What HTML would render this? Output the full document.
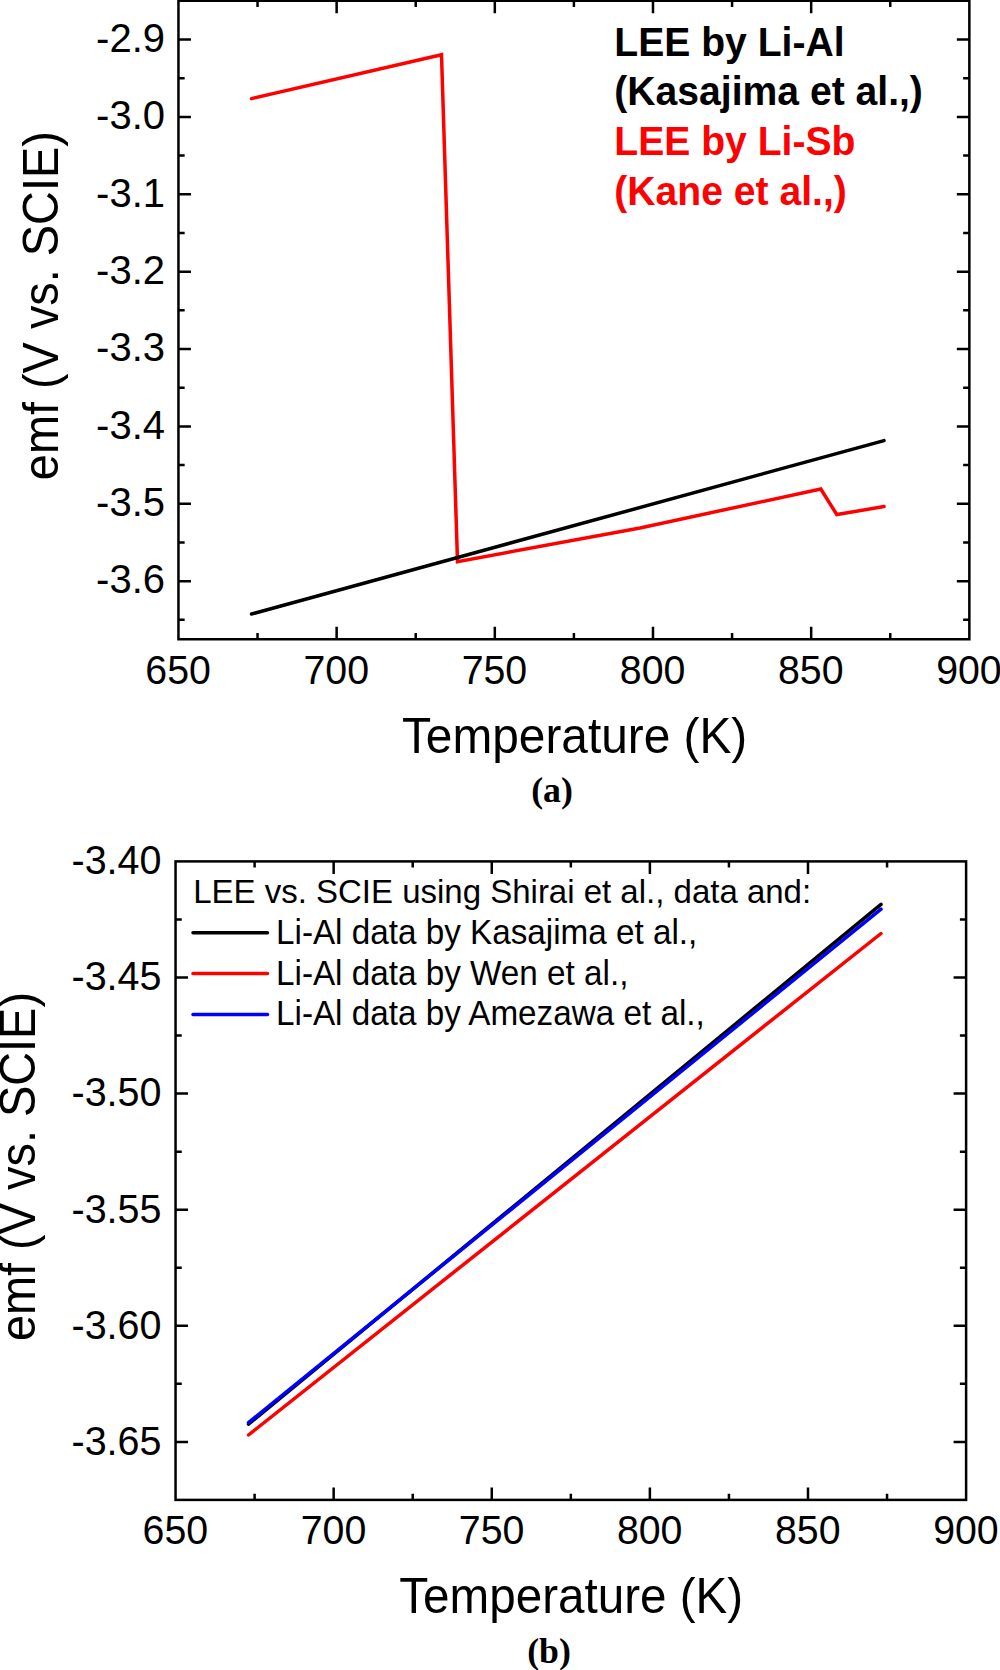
<!DOCTYPE html>
<html><head><meta charset="utf-8"><title>emf vs Temperature</title>
<style>
html,body{margin:0;padding:0;background:#fff}
svg{display:block}
text{font-family:"Liberation Sans",Arial,Helvetica,sans-serif;fill:#000}
.s{font-family:"Liberation Serif","Times New Roman",serif;font-weight:bold}
.b{font-weight:bold}
</style></head><body>
<svg width="1000" height="1670" viewBox="0 0 1000 1670">
<rect width="1000" height="1670" fill="#fff"/>
<path d="M257.54 639.25v-6.2M257.54 0.75v6.2M336.63 639.25v-12.5M336.63 0.75v12.5M415.72 639.25v-6.2M415.72 0.75v6.2M494.81 639.25v-12.5M494.81 0.75v12.5M573.9 639.25v-6.2M573.9 0.75v6.2M652.99 639.25v-12.5M652.99 0.75v12.5M732.08 639.25v-6.2M732.08 0.75v6.2M811.17 639.25v-12.5M811.17 0.75v12.5M890.26 639.25v-6.2M890.26 0.75v6.2M178.45 39.5h12.5M969.35 39.5h-12.5M178.45 116.88h12.5M969.35 116.88h-12.5M178.45 194.26h12.5M969.35 194.26h-12.5M178.45 271.64h12.5M969.35 271.64h-12.5M178.45 349.02h12.5M969.35 349.02h-12.5M178.45 426.4h12.5M969.35 426.4h-12.5M178.45 503.78h12.5M969.35 503.78h-12.5M178.45 581.16h12.5M969.35 581.16h-12.5M178.45 78.19h6.2M969.35 78.19h-6.2M178.45 155.57h6.2M969.35 155.57h-6.2M178.45 232.95h6.2M969.35 232.95h-6.2M178.45 310.33h6.2M969.35 310.33h-6.2M178.45 387.71h6.2M969.35 387.71h-6.2M178.45 465.09h6.2M969.35 465.09h-6.2M178.45 542.47h6.2M969.35 542.47h-6.2M178.45 619.85h6.2M969.35 619.85h-6.2" stroke="#000" stroke-width="2.5" fill="none"/>
<rect x="178.45" y="0.75" width="790.9" height="638.5" fill="none" stroke="#000" stroke-width="2.5"/>
<text transform="translate(165,51.8) scale(1,1.02)" font-size="40" text-anchor="end">-2.9</text>
<text transform="translate(165,129.18) scale(1,1.02)" font-size="40" text-anchor="end">-3.0</text>
<text transform="translate(165,206.56) scale(1,1.02)" font-size="40" text-anchor="end">-3.1</text>
<text transform="translate(165,283.94) scale(1,1.02)" font-size="40" text-anchor="end">-3.2</text>
<text transform="translate(165,361.32) scale(1,1.02)" font-size="40" text-anchor="end">-3.3</text>
<text transform="translate(165,438.7) scale(1,1.02)" font-size="40" text-anchor="end">-3.4</text>
<text transform="translate(165,516.08) scale(1,1.02)" font-size="40" text-anchor="end">-3.5</text>
<text transform="translate(165,593.46) scale(1,1.02)" font-size="40" text-anchor="end">-3.6</text>
<text transform="translate(178.05,684) scale(1,1.03)" font-size="39.3" text-anchor="middle">650</text>
<text transform="translate(336.23,684) scale(1,1.03)" font-size="39.3" text-anchor="middle">700</text>
<text transform="translate(494.41,684) scale(1,1.03)" font-size="39.3" text-anchor="middle">750</text>
<text transform="translate(652.59,684) scale(1,1.03)" font-size="39.3" text-anchor="middle">800</text>
<text transform="translate(810.77,684) scale(1,1.03)" font-size="39.3" text-anchor="middle">850</text>
<text transform="translate(968.95,684) scale(1,1.03)" font-size="39.3" text-anchor="middle">900</text>
<polyline points="251.5,98.6 441.5,54.8 457.5,561.6 640,528 820.8,489 836.8,514.6 884,506.6" fill="none" stroke="#f00" stroke-width="3.5" stroke-linejoin="miter" stroke-linecap="round"/>
<line x1="251.5" y1="614" x2="884" y2="440.6" stroke="#000" stroke-width="3.5" stroke-linecap="round"/>
<text class="b" transform="translate(614.3,55.9) scale(1,1.033)" font-size="39.1">LEE by Li-Al</text>
<text class="b" transform="translate(614.3,104.5) scale(1,1.033)" font-size="39.1">(Kasajima et al.,)</text>
<text class="b" transform="translate(614.3,155.4) scale(1,1.033)" font-size="39.1" style="fill:#f00">LEE by Li-Sb</text>
<text class="b" transform="translate(614.3,204.5) scale(1,1.033)" font-size="39.1" style="fill:#f00">(Kane et al.,)</text>
<text transform="translate(574.6,752.5) scale(1,1.05)" font-size="47.8" text-anchor="middle">Temperature (K)</text>
<text transform="translate(58.2,305.65) rotate(-90) scale(1,1.06)" font-size="46.9" text-anchor="middle">emf (V vs. SCIE)</text>
<text class="s" transform="translate(552,802.3)" font-size="35.8" text-anchor="middle">(a)</text>
<path d="M254.61 1499.9v-6.2M254.61 861.4v6.2M333.66 1499.9v-12.5M333.66 861.4v12.5M412.72 1499.9v-6.2M412.72 861.4v6.2M491.77 1499.9v-12.5M491.77 861.4v12.5M570.83 1499.9v-6.2M570.83 861.4v6.2M649.88 1499.9v-12.5M649.88 861.4v12.5M728.93 1499.9v-6.2M728.93 861.4v6.2M807.99 1499.9v-12.5M807.99 861.4v12.5M887.05 1499.9v-6.2M887.05 861.4v6.2M175.55 977.5h12.5M966.1 977.5h-12.5M175.55 1093.6h12.5M966.1 1093.6h-12.5M175.55 1209.7h12.5M966.1 1209.7h-12.5M175.55 1325.8h12.5M966.1 1325.8h-12.5M175.55 1441.9h12.5M966.1 1441.9h-12.5M175.55 919.45h6.2M966.1 919.45h-6.2M175.55 1035.55h6.2M966.1 1035.55h-6.2M175.55 1151.65h6.2M966.1 1151.65h-6.2M175.55 1267.75h6.2M966.1 1267.75h-6.2M175.55 1383.85h6.2M966.1 1383.85h-6.2" stroke="#000" stroke-width="2.5" fill="none"/>
<rect x="175.55" y="861.4" width="790.55" height="638.5" fill="none" stroke="#000" stroke-width="2.5"/>
<text transform="translate(161.5,874.2) scale(1,1.02)" font-size="39.5" text-anchor="end">-3.40</text>
<text transform="translate(161.5,990.3) scale(1,1.02)" font-size="39.5" text-anchor="end">-3.45</text>
<text transform="translate(161.5,1106.4) scale(1,1.02)" font-size="39.5" text-anchor="end">-3.50</text>
<text transform="translate(161.5,1222.5) scale(1,1.02)" font-size="39.5" text-anchor="end">-3.55</text>
<text transform="translate(161.5,1338.6) scale(1,1.02)" font-size="39.5" text-anchor="end">-3.60</text>
<text transform="translate(161.5,1454.7) scale(1,1.02)" font-size="39.5" text-anchor="end">-3.65</text>
<text transform="translate(175.35,1544.4) scale(1,1.03)" font-size="39.3" text-anchor="middle">650</text>
<text transform="translate(333.46,1544.4) scale(1,1.03)" font-size="39.3" text-anchor="middle">700</text>
<text transform="translate(491.57,1544.4) scale(1,1.03)" font-size="39.3" text-anchor="middle">750</text>
<text transform="translate(649.68,1544.4) scale(1,1.03)" font-size="39.3" text-anchor="middle">800</text>
<text transform="translate(807.79,1544.4) scale(1,1.03)" font-size="39.3" text-anchor="middle">850</text>
<text transform="translate(965.9,1544.4) scale(1,1.03)" font-size="39.3" text-anchor="middle">900</text>
<line x1="248.5" y1="1435" x2="881" y2="933.5" stroke="#f00" stroke-width="3.5" stroke-linecap="round"/>
<line x1="248.5" y1="1424.2" x2="881" y2="904.4" stroke="#000" stroke-width="3.5" stroke-linecap="round"/>
<line x1="248.5" y1="1422.6" x2="881" y2="909.2" stroke="#00f" stroke-width="3.5" stroke-linecap="round"/>
<text transform="translate(193.2,902.7) scale(1,1.03)" font-size="33">LEE vs. SCIE using Shirai et al., data and:</text>
<line x1="193" y1="932.8" x2="267.5" y2="932.8" stroke="#000" stroke-width="3.5" stroke-linecap="round"/>
<text transform="translate(276,944) scale(1,1.03)" font-size="33.25">Li-Al data by Kasajima et al.,</text>
<line x1="193" y1="973.6" x2="267.5" y2="973.6" stroke="#f00" stroke-width="3.5" stroke-linecap="round"/>
<text transform="translate(276,984.6) scale(1,1.03)" font-size="33.25">Li-Al data by Wen et al.,</text>
<line x1="193" y1="1014.4" x2="267.5" y2="1014.4" stroke="#00f" stroke-width="3.5" stroke-linecap="round"/>
<text transform="translate(276,1025.2) scale(1,1.03)" font-size="33.25">Li-Al data by Amezawa et al.,</text>
<text transform="translate(571.2,1613.1) scale(1,1.05)" font-size="47.6" text-anchor="middle">Temperature (K)</text>
<text transform="translate(34.5,1166.55) rotate(-90) scale(1,1.06)" font-size="46.9" text-anchor="middle">emf (V vs. SCIE)</text>
<text class="s" transform="translate(549,1662.8)" font-size="35.8" text-anchor="middle">(b)</text>
</svg>
</body></html>
